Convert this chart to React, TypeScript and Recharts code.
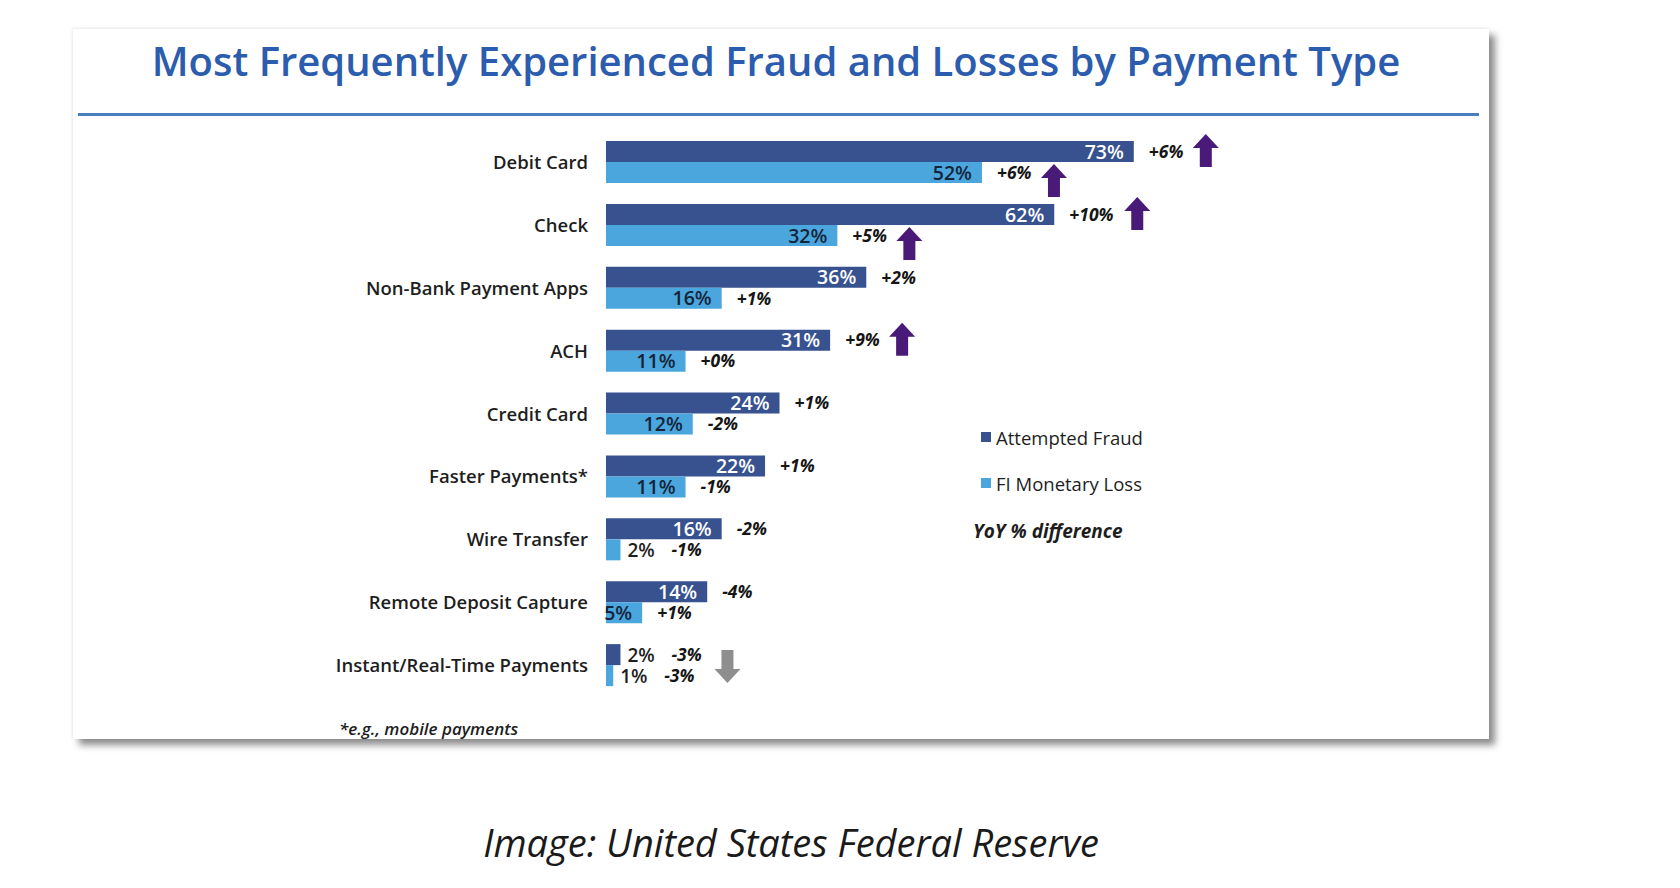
import React from 'react';
import { BarChart, Bar, XAxis, YAxis, LabelList, Legend } from 'recharts';

const categories = [
  'Debit Card',
  'Check',
  'Non-Bank Payment Apps',
  'ACH',
  'Credit Card',
  'Faster Payments*',
  'Wire Transfer',
  'Remote Deposit Capture',
  'Instant/Real-Time Payments',
];
const attemptedFraud = [73, 62, 36, 31, 24, 22, 16, 14, 2];
const monetaryLoss = [52, 32, 16, 11, 12, 11, 2, 5, 1];
const attemptedYoY = ['+6%', '+10%', '+2%', '+9%', '+1%', '+1%', '-2%', '-4%', '-3%'];
const lossYoY = ['+6%', '+5%', '+1%', '+0%', '-2%', '-1%', '-1%', '+1%', '-3%'];
const attemptedArrow = ['up', 'up', '', 'up', '', '', '', '', 'down'];
const lossArrow = ['up', 'up', '', '', '', '', '', '', ''];

const data = categories.map((name, i) => ({
  name,
  attempted: attemptedFraud[i],
  loss: monetaryLoss[i],
}));

const DARK = '#37528f';
const LIGHT = '#4aa6dc';
const PURPLE = '#4a1a78';
const GRAY = '#8e8e8e';
const FONT = '"Open Sans", Lato, sans-serif';

const yoyWidth = (s: string) => {
  let w = 0;
  for (const c of s) {
    if (c === '%') w += 16;
    else if (c === '-') w += 6;
    else w += 11;
  }
  return w;
};

const arrowPath = (x: number, top: number, dir: string) => {
  const W = 26, H = 33, HH = 14, SW = 12;
  const cx = x + W / 2;
  if (dir === 'up') {
    return `M${cx},${top} L${x + W},${top + HH} L${cx + SW / 2},${top + HH} L${cx + SW / 2},${top + H} L${cx - SW / 2},${top + H} L${cx - SW / 2},${top + HH} L${x},${top + HH} Z`;
  }
  return `M${cx},${top + H} L${x + W},${top + H - HH} L${cx + SW / 2},${top + H - HH} L${cx + SW / 2},${top} L${cx - SW / 2},${top} L${cx - SW / 2},${top + H - HH} L${x},${top + H - HH} Z`;
};

const makeLabel = (
  values: number[],
  yoys: string[],
  arrows: string[],
  insideColor: string,
  arrowDy: number,
) => (props: any) => {
  const { x, y, width, height, index } = props;
  const v = values[index];
  const cy = y + height / 2;
  const end = x + width;
  const inside = width > 30;
  let yoyX: number;
  let valueEl;
  if (inside) {
    valueEl = (
      <text x={end - 10} y={cy} dy="0.37em" textAnchor="end" fill={insideColor}
        fontSize={19.5} fontWeight={600} fontFamily={FONT}>{`${v}%`}</text>
    );
    yoyX = end + 15;
  } else {
    valueEl = (
      <text x={end + 7} y={cy} dy="0.37em" textAnchor="start" fill="#1e1e1e"
        fontSize={19} fontWeight={600} fontFamily={FONT}>{`${v}%`}</text>
    );
    yoyX = end + 7 + 30 + 14;
  }
  const yoy = yoys[index];
  const arrow = arrows[index];
  const arrowX = yoyX + yoyWidth(yoy) + (arrow === 'down' ? 10 : 6);
  return (
    <g>
      {valueEl}
      <text x={yoyX} y={cy} dy="0.36em" textAnchor="start" fill="#151515"
        fontSize={17.5} fontStyle="italic" fontWeight={700} fontFamily={FONT}>{yoy}</text>
      {arrow === 'up' && <path d={arrowPath(arrowX, y + arrowDy, 'up')} fill={PURPLE} />}
      {arrow === 'down' && <path d={arrowPath(arrowX, y + 6, 'down')} fill={GRAY} />}
    </g>
  );
};

const renderLegend = (props: any) => {
  const { payload } = props;
  return (
    <div style={{ fontFamily: FONT, color: '#1e1e1e' }}>
      {(payload || []).map((entry: any) => (
        <div key={entry.value} style={{ display: 'flex', alignItems: 'center', height: 22, marginBottom: 24, whiteSpace: 'nowrap' }}>
          <span style={{ display: 'inline-block', width: 10, height: 10, background: entry.color, marginRight: 5 }} />
          <span style={{ fontSize: 18.5, fontWeight: 500 }}>{entry.value}</span>
        </div>
      ))}
      <div style={{ fontSize: 19, fontStyle: 'italic', fontWeight: 700, marginLeft: -8, marginTop: 1, whiteSpace: 'nowrap' }}>YoY % difference</div>
    </div>
  );
};

export default function App() {
  return (
    <div style={{ position: 'absolute', left: 0, top: 0, width: 1680, height: 888, background: '#fff', overflow: 'hidden' }}>
      <div
        style={{
          position: 'absolute', left: 73, top: 29, width: 1416, height: 710,
          background: '#fff', boxShadow: '6px 6px 7px rgba(0,0,0,0.45), -1px -1px 3px rgba(0,0,0,0.08)',
          overflow: 'hidden',
        }}
      >
        <div
          style={{
            position: 'absolute', left: 0, top: 8, width: 1416, textAlign: 'center',
            fontFamily: FONT, fontSize: 40, fontWeight: 600, color: '#2b5cad', lineHeight: '48px',
            paddingRight: 10, boxSizing: 'border-box', whiteSpace: 'nowrap',
          }}
        >
          Most Frequently Experienced Fraud and Losses by Payment Type
        </div>
        <div style={{ position: 'absolute', left: 5, top: 84, width: 1401, height: 3, background: '#4a7cc0' }} />
        <div
          style={{
            position: 'absolute', left: 266, top: 690, fontFamily: FONT, fontSize: 17,
            fontStyle: 'italic', fontWeight: 600, color: '#1e1e1e', lineHeight: '20px', whiteSpace: 'nowrap',
          }}
        >
          *e.g., mobile payments
        </div>
      </div>

      <div style={{ position: 'absolute', left: 0, top: 0 }}>
        <BarChart
          width={1680}
          height={888}
          data={data}
          layout="vertical"
          margin={{ top: 131, right: 351, bottom: 191, left: 306 }}
          barGap={0}
        >
          <XAxis type="number" domain={[0, 100]} hide />
          <YAxis
            type="category"
            dataKey="name"
            width={300}
            axisLine={false}
            tickLine={false}
            tickSize={6}
            tickMargin={12}
            interval={0}
            tick={{ fill: '#1e1e1e', fontSize: 18.5, fontFamily: FONT, fontWeight: 600 }}
          />
          <Legend
            layout="vertical"
            verticalAlign="middle"
            align="center"
            content={renderLegend}
            wrapperStyle={{ left: 981, top: 426, width: 240 }}
          />
          <Bar dataKey="attempted" name="Attempted Fraud" fill={DARK} barSize={21} isAnimationActive={false}>
            <LabelList dataKey="attempted" content={makeLabel(attemptedFraud, attemptedYoY, attemptedArrow, '#ffffff', -7)} />
          </Bar>
          <Bar dataKey="loss" name="FI Monetary Loss" fill={LIGHT} barSize={21} isAnimationActive={false}>
            <LabelList dataKey="loss" content={makeLabel(monetaryLoss, lossYoY, lossArrow, '#14243a', 2)} />
          </Bar>
        </BarChart>
      </div>

      <div
        style={{
          position: 'absolute', left: 0, top: 818, width: 1582, textAlign: 'center',
          fontFamily: '"Open Sans", sans-serif', fontSize: 38, fontStyle: 'italic', color: '#1a1a1a', lineHeight: '48px',
        }}
      >
        Image: United States Federal Reserve
      </div>
    </div>
  );
}
